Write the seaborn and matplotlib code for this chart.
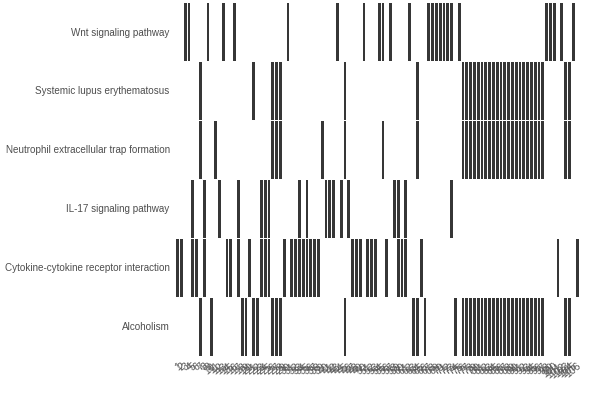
import matplotlib
matplotlib.use("Agg")
import matplotlib.pyplot as plt
import numpy as np
import pandas as pd
import seaborn as sns
from matplotlib.colors import ListedColormap

pathways = [
    "Wnt signaling pathway",
    "Systemic lupus erythematosus",
    "Neutrophil extracellular trap formation",
    "IL-17 signaling pathway",
    "Cytokine-cytokine receptor interaction",
    "Alcoholism",
]

genes = ["1", "2", "3", "4", "5", "6", "7", "8", "9", "10", "11", "12", "13", "14", "15",
         "16", "17", "18", "19", "20", "21", "22", "23", "24", "25", "26", "27", "28", "29",
         "30", "31", "32", "33", "34", "35", "36", "37", "38", "39", "40", "41", "42", "43",
         "44", "45", "46", "47", "48", "49", "50", "51", "52", "53", "54", "55", "56", "57",
         "58", "59", "60", "61", "62", "63", "64", "65", "66", "67", "68", "69", "70", "71",
         "72", "73", "74", "75", "76", "77", "78", "79", "80", "81", "82", "83", "84", "85",
         "86", "87", "88", "89", "90", "91", "92", "93", "94", "95", "96", "97", "98", "99",
         "100", "101", "102", "103", "104", "105", "106"]

# gene positions (0-based) that belong to each pathway
wnt_members = [2, 3, 8, 12, 15, 29, 42, 49, 53, 54, 56, 61, 66, 67, 68, 69, 70, 71, 72,
               74, 97, 98, 99, 101, 104]
sle_members = [6, 20, 25, 26, 27, 44, 63, 75, 76, 77, 78, 79, 80, 81, 82, 83, 84, 85, 86,
               87, 88, 89, 90, 91, 92, 93, 94, 95, 96, 102, 103]
net_members = [6, 10, 25, 26, 27, 38, 44, 54, 63, 75, 76, 77, 78, 79, 80, 81, 82, 83, 84,
               85, 86, 87, 88, 89, 90, 91, 92, 93, 94, 95, 96, 102, 103]
il17_members = [4, 7, 11, 16, 22, 23, 24, 32, 34, 39, 40, 41, 43, 45, 57, 58, 60, 72]
cytokine_members = [0, 1, 4, 5, 7, 13, 14, 16, 19, 22, 23, 24, 28, 30, 31, 32, 33, 34, 35,
                    36, 37, 46, 47, 48, 50, 51, 52, 55, 58, 59, 60, 64, 100, 105]
alcoholism_members = [6, 9, 17, 18, 20, 21, 25, 26, 27, 44, 62, 63, 65, 73, 75, 76, 77, 78,
                      79, 80, 81, 82, 83, 84, 85, 86, 87, 88, 89, 90, 91, 92, 93, 94, 95, 96,
                      102, 103]

members = [wnt_members, sle_members, net_members, il17_members, cytokine_members,
           alcoholism_members]

mat = np.zeros((len(pathways), len(genes)))
for r, mem in enumerate(members):
    mat[r, mem] = 1
df = pd.DataFrame(mat, index=pathways, columns=genes)

fig = plt.figure(figsize=(6.0, 4.06), dpi=100)
ax = fig.add_axes([175.2 / 600, 1 - 357 / 406, 403.3 / 600, 354 / 406])
sns.heatmap(df, cmap=ListedColormap(["white", "#363636"]), cbar=False,
            linewidths=0.45, linecolor="white", ax=ax, vmin=0, vmax=1)

ax.set_xticks(np.arange(len(genes)) + 0.5)
ax.set_xticklabels(genes, rotation=40, ha="right", rotation_mode="anchor",
                   fontsize=7.5, color="#5a5a5a", family="Liberation Sans")
ax.set_yticks(np.arange(len(pathways)) + 0.5)
ax.set_yticklabels(pathways, rotation=0, fontsize=7.1, color="#4d4d4d",
                   family="Liberation Sans")
ax.tick_params(axis="both", length=0)
ax.tick_params(axis="y", pad=4)
ax.tick_params(axis="x", pad=3)
ax.set_xlabel("")
ax.set_ylabel("")
for s in ax.spines.values():
    s.set_visible(False)

fig.savefig("out.png", dpi=100)
